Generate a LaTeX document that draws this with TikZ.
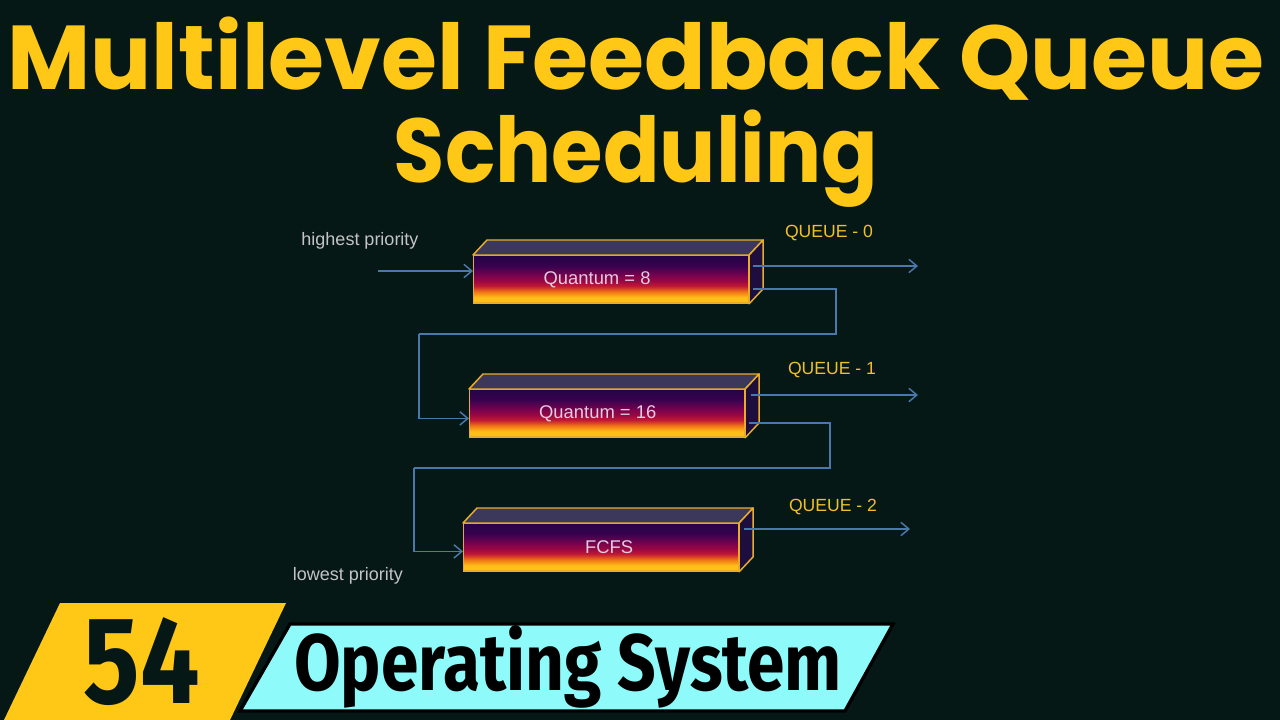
\documentclass[tikz,border=0pt]{standalone}
\usepackage{fontspec}
\setmainfont{Liberation Sans}
\newfontfamily\titlefont{Poppins}
\newfontfamily\bannerfont{Fira Sans}
\usetikzlibrary{arrows.meta,calc,positioning}

\definecolor{bgdark}{RGB}{6,24,22}
\definecolor{titleyellow}{RGB}{255,200,22}
\definecolor{flowblue}{RGB}{72,120,172}
\definecolor{boxgold}{RGB}{232,172,44}
\definecolor{boxtop}{RGB}{60,56,92}
\definecolor{boxside}{RGB}{30,14,62}
\definecolor{boxtext}{RGB}{226,204,226}
\definecolor{notegray}{RGB}{196,196,196}
\definecolor{labelyellow}{RGB}{240,192,40}
\definecolor{bannercyan}{RGB}{142,250,250}
\definecolor{shadeyel}{RGB}{255,190,24}
\definecolor{shadeorg}{RGB}{240,118,22}
\definecolor{shadered}{RGB}{192,26,52}
\definecolor{shadecrim}{RGB}{156,8,66}
\definecolor{shademag}{RGB}{116,2,78}
\definecolor{shadevio}{RGB}{56,2,78}
\definecolor{shadepur}{RGB}{36,4,70}

\pgfdeclareverticalshading{queueshade}{100bp}{color(0bp)=(shadeyel); color(25bp)=(shadeyel); color(31bp)=(shadeyel); color(37bp)=(shadeorg); color(43bp)=(shadered); color(48bp)=(shadecrim); color(55bp)=(shademag); color(64bp)=(shadevio); color(75bp)=(shadepur); color(100bp)=(shadepur)}

\tikzset{every picture/.style={line width=0.75pt}}
\tikzset{
  queuebox/.style={rectangle, draw=boxgold, line width=1.1pt, shading=queueshade, minimum width=206pt, minimum height=35.5pt, inner sep=0pt, text=boxtext, font=\fontsize{13.8}{16}\selectfont},
  topface/.style={fill=boxtop, draw=boxgold, line width=1.1pt, line join=round},
  sideface/.style={fill=boxside, draw=boxgold, line width=1.1pt, line join=round},
  flow/.style={draw=flowblue, line width=1.1pt, -{Straight Barb[length=6pt,width=10pt,line width=1.1pt]}},
  feed/.style={draw=flowblue, line width=1.1pt},
  note/.style={text=notegray, inner sep=0pt, font=\fontsize{13.5}{16}\selectfont},
  qlabel/.style={text=labelyellow, inner sep=0pt, font=\fontsize{13.2}{16}\selectfont},
  titletext/.style={text=titleyellow, inner sep=0pt, font=\titlefont\bfseries\fontsize{68}{76}\selectfont}
}

\begin{document}
\begin{tikzpicture}[x=0.75pt,y=0.75pt,yscale=-1,xscale=1]
\fill[bgdark] (0,0) rectangle (1280,720);
\useasboundingbox (0,0) rectangle (1280,720);

% Title
\node[titletext, anchor=base] (title1) at (636,90) {Multilevel Feedback Queue};
\node[titletext, anchor=base] (title2) at (636,183) {\scalebox{0.92}[1]{Scheduling}};

%Shape: Queue 0
\node[queuebox, anchor=north west] (q0) at (473,255) {\hspace*{-21pt}Quantum = 8};
\filldraw[topface] (q0.north west) -- ++(14,-15) -- ($(q0.north east)+(14,-15)$) -- (q0.north east) -- cycle;
\filldraw[sideface] (q0.north east) -- ++(14,-15) -- ($(q0.south east)+(14,-15)$) -- (q0.south east) -- cycle;
%Shape: Queue 1
\node[queuebox, anchor=north west] (q1) at (469,389) {\hspace*{-14pt}Quantum = 16};
\filldraw[topface] (q1.north west) -- ++(14,-15) -- ($(q1.north east)+(14,-15)$) -- (q1.north east) -- cycle;
\filldraw[sideface] (q1.north east) -- ++(14,-15) -- ($(q1.south east)+(14,-15)$) -- (q1.south east) -- cycle;
%Shape: Queue 2
\node[queuebox, anchor=north west] (q2) at (463,523) {\hspace*{12pt}FCFS};
\filldraw[topface] (q2.north west) -- ++(14,-15) -- ($(q2.north east)+(14,-15)$) -- (q2.north east) -- cycle;
\filldraw[sideface] (q2.north east) -- ++(14,-15) -- ($(q2.south east)+(14,-15)$) -- (q2.south east) -- cycle;

%Straight Lines: entry
\coordinate (hp) at (378,271);
\draw[flow] (hp) -- (hp -| q0.west);

%Straight Lines: exits
\coordinate (x0) at ($(q0.north east)+(4,11)$);
\coordinate (o0) at (918,266);
\draw[flow] (x0) -- (o0);
\coordinate (x1) at ($(q1.north east)+(6,6)$);
\coordinate (o1) at (918,395);
\draw[flow] (x1) -- (o1);
\coordinate (x2) at ($(q2.north east)+(5,6)$);
\coordinate (o2) at (910,529);
\draw[flow] (x2) -- (o2);

%Straight Lines: feedback 0 to 1
\coordinate (f0) at ($(q0.south east)+(4,-15)$);
\coordinate (r0) at (836,334);
\coordinate (l0) at (419,334);
\coordinate (in1) at ($(q1.west)+(0,5)$);
\draw[feed] (f0) -| (r0) -- (l0);
\draw[flow] (l0) |- (in1);
%Straight Lines: feedback 1 to 2
\coordinate (f1) at ($(q1.south east)+(4,-15)$);
\coordinate (r1) at (830,468);
\coordinate (l1) at (414,468);
\coordinate (in2) at ($(q2.west)+(0,4)$);
\draw[feed] (f1) -| (r1) -- (l1);
\draw[flow] (l1) |- (in2);

% Text Node
\node[note, anchor=base] (hpnote) at (360,246) {highest priority};
% Text Node
\node[note, anchor=base] (lpnote) at (348,580) {lowest priority};
% Text Node
\node[qlabel, anchor=base] (lab0) at (829,238) {QUEUE - 0};
% Text Node
\node[qlabel, anchor=base] (lab1) at (832,374) {QUEUE - 1};
% Text Node
\node[qlabel, anchor=base] (lab2) at (833,511) {QUEUE - 2};

%Shape: banner
\fill[titleyellow] (60,603) -- (286,603) -- (230,720) -- (4,720) -- cycle;
\filldraw[fill=bannercyan, draw=black, line width=2.5pt] (290,624) -- (893,624) -- (845,711) -- (240,711) -- cycle;
\node[anchor=base, inner sep=0pt, text=bgdark, font=\bannerfont\bfseries\fontsize{93}{96}\selectfont] (epnum) at (142,703) {\scalebox{0.85}[1]{54}};
\node[anchor=base, inner sep=0pt, text=black, font=\bannerfont\bfseries\fontsize{60}{66}\selectfont] (ostext) at (568,690) {\scalebox{0.845}[1]{Operating System}};

\end{tikzpicture}
\end{document}
